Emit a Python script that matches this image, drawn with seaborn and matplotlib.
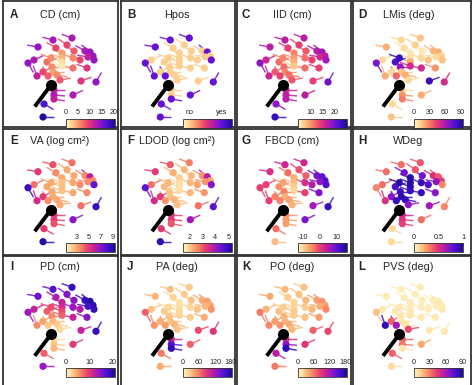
import numpy as np
import pandas as pd
import matplotlib
matplotlib.use("Agg")
import matplotlib.pyplot as plt
import seaborn as sns
from matplotlib.colors import LinearSegmentedColormap, Normalize
from matplotlib.collections import LineCollection
from matplotlib.cm import ScalarMappable

sns.set_theme(style="white")
plt.rcParams["font.family"] = ["Liberation Sans", "DejaVu Sans"]

# ---------------- data ----------------
pt_x = [53, 72, 38, 56, 67, 74, 85, 90, 93, 88, 94, 62, 62, 62, 62, 34, 28, 47, 51, 52,
        73, 80, 87, 73, 43, 53, 57, 37, 48, 96, 81, 73, 54, 54, 54, 44, 43, 60]
pt_y = [40, 38, 47, 48, 45, 51, 51, 52, 56, 57, 60, 53, 58, 62, 66, 60, 63, 62, 58, 67,
        58, 60, 68, 68, 72, 72, 75, 76, 76, 82, 81, 95, 90, 95, 99, 104, 117, 80]
stick_deg = [165, 160, 170, 150, 145, 150, 150, 140, 140, 170, 140, 160, 160, 160, 160, 25, -60, 20, 160, 0,
             160, 150, 160, 170, 30, 0, -10, 110, 120, 60, 20, 25, 0, -5, -10, -30, 0, 10]
anchor_x, anchor_y, anchor_deg = 51, 85, 233

letters = list("ABCDEFGHIJKL")
titles = ["CD (cm)", "Hpos", "IID (cm)", "LMis (deg)",
          "VA (log cm\u00b2)", "LDOD (log cm\u00b2)", "FBCD (cm)", "WDeg",
          "PD (cm)", "PA (deg)", "PO (deg)", "PVS (deg)"]

cd = [13, 13, 14, 9, 9, 8, 13, 14, 14, 12, 14, 5, 4, 2, 1, 13, 14, 7, 6, 6,
      6, 9, 10, 7, 9, 5, 6, 12, 8, 14, 10, 13, 12, 13, 12, 17, 20, 8]
hpos = [1, 1, 1, 0, 0, 0, 0, 1, 0, 0, 1, 0, 0, 0, 0, 0, 1, 0, 0, 0,
        0, 0, 0, 0, 0, 0, 0, 1, 1, 1, 0, 1, 0, 0, 1, 1, 1, 0]
iid = [17, 17, 17, 14, 14, 13, 17, 18, 17, 16, 18, 11, 10, 9, 8, 16, 19, 12, 11, 12,
       12, 14, 14, 12, 13, 11, 12, 16, 14, 20, 14, 17, 16, 17, 17, 19, 23, 13]
lmis = [10, 15, 20, 8, 12, 5, 18, 20, 12, 10, 15, 5, 8, 20, 50, 10, 70, 80, 85, 65,
        10, 15, 25, 50, 10, 15, 20, 20, 35, 50, 85, 20, 10, 25, 30, 10, 15, 10]
va = [4.5, 4, 5, 3.5, 3, 3, 3.5, 6, 3.5, 3.5, 7.5, 3, 2.5, 2.5, 2.5, 4, 8.5, 3, 3, 3,
      3, 3.5, 3.5, 3, 5, 3, 3, 5.5, 3.5, 8.5, 4, 7, 5, 5, 4.5, 5, 9, 3]
ldod = [3, 2.7, 3.3, 2.3, 2.2, 2.2, 2.5, 3.8, 2.4, 2.5, 4.2, 2, 1.8, 1.8, 1.8, 2.8, 4.5, 2.2, 2.2, 2.1,
        2.2, 2.4, 2.5, 2.2, 3.3, 2.1, 2.2, 3.5, 2.5, 4.5, 2.8, 4, 3.3, 3.3, 3, 3.3, 5, 2.1]
fbcd = [3, 3, 2, -3, -1, -2, 8, 10, 11, 7, 11, -7, -8, -9, -10, 0, 0, -5, -6, -4,
        2, 5, 8, 0, -4, -7, -6, 0, -4, 13, 6, 8, -5, -6, -6, -3, -8, -7]
wdeg = [0.35, 0.4, 0.35, 0.75, 0.4, 0.75, 0.5, 0.4, 0.45, 0.7, 0.3, 0.95, 0.95, 0.95, 0.9, 0.35, 0.3, 0.85, 0.95, 0.9,
        0.9, 0.85, 0.7, 0.9, 0.7, 0.95, 0.9, 0.5, 0.9, 0.3, 0.65, 0.35, 0.55, 0.5, 0.45, 0.1, 0.1, 0.7]
pd_cm = [17, 19, 16, 13, 15, 15, 19, 20, 20, 18, 19, 12, 11, 9, 8, 12, 14, 8, 9, 6,
         14, 13, 15, 12, 5, 4, 3, 6, 3, 19, 12, 10, 2, 3, 4, 8, 14, 2]
pa = [30, 25, 35, 20, 25, 30, 40, 45, 40, 35, 50, 15, 15, 20, 20, 30, 70, 25, 20, 30,
      20, 30, 40, 25, 40, 30, 35, 50, 45, 90, 80, 70, 100, 150, 170, 60, 40, 30]
po = [35, 30, 40, 25, 30, 35, 45, 50, 45, 40, 55, 20, 20, 25, 25, 35, 60, 30, 25, 35,
      25, 35, 45, 30, 45, 35, 40, 55, 50, 80, 70, 90, 100, 130, 170, 110, 60, 35]
pvs = [3, 3, 4, 3, 3, 3, 4, 4, 4, 3, 4, 3, 3, 4, 5, 5, 15, 4, 4, 5,
       3, 3, 4, 5, 35, 5, 6, 85, 60, 4, 5, 20, 35, 30, 5, 35, 8, 40]

panel_values = [cd, hpos, iid, lmis, va, ldod, fbcd, wdeg, pd_cm, pa, po, pvs]
panel_ranges = [(0, 20.5), (-0.2, 1.35), (5, 25), (0, 95), (1.2, 9.3), (1.5, 5.3),
                (-13, 16), (0, 1.0), (0, 21), (0, 185), (0, 185), (0, 92)]
panel_ticks = [[0, 5, 10, 15, 20], [0, 1], [10, 15, 20], [0, 30, 60, 90],
               [3, 5, 7, 9], [2, 3, 4, 5], [-10, 0, 10], [0, 0.5, 1],
               [0, 10, 20], [0, 60, 120, 180], [0, 60, 120, 180], [0, 30, 60, 90]]
panel_ticklabels = [["0", "5", "10", "15", "20"], ["no", "yes"], ["10", "15", "20"],
                    ["0", "30", "60", "90"], ["3", "5", "7", "9"], ["2", "3", "4", "5"],
                    ["-10", "0", "10"], ["0", "0.5", "1"], ["0", "10", "20"],
                    ["0", "60", "120", "180"], ["0", "60", "120", "180"], ["0", "30", "60", "90"]]

# ---------------- style / layout ----------------
cmap = LinearSegmentedColormap.from_list(
    "pale_plasma",
    ["#fff6c6", "#fdd596", "#f9a86f", "#f47566", "#e8416f", "#cc2391",
     "#9e17bd", "#6512d6", "#3a0ec4", "#1f0c8c"])

W, H = 474, 385
fig = plt.figure(figsize=(W / 100, H / 100), dpi=100)


def rect(x0, y0, x1, y1):
    return [x0 / W, 1 - y1 / H, (x1 - x0) / W, (y1 - y0) / H]


col_dx = [0, 117.3, 232, 348.3]
row_dy = [0, 124.7, 249.3]
frame_l = [2.5, 121, 237, 353]
frame_r = [118, 235, 351, 471]
frame_t = [1, 128.5, 256]
frame_b = [127, 254.5, 392]
title_y = [15, 141, 267]
stick_len = 11.0

for i in range(12):
    r, c = divmod(i, 4)
    ox, oy = col_dx[c], row_dy[r]
    ax = fig.add_axes(rect(frame_l[c], frame_t[r], frame_r[c], frame_b[r]))
    vals = np.asarray(panel_values[i], dtype=float)
    norm = Normalize(*panel_ranges[i])
    df = pd.DataFrame({"x": pt_x, "y": pt_y, "ang": stick_deg, "v": vals})

    a = np.deg2rad(df["ang"].to_numpy())
    segs = [[(x, y), (x + stick_len * np.cos(t), y - stick_len * np.sin(t))]
            for x, y, t in zip(df["x"], df["y"], a)]
    ax.add_collection(LineCollection(segs, colors=cmap(norm(vals)), linewidths=1.05,
                                     alpha=0.85, zorder=2))
    sns.scatterplot(data=df, x="x", y="y", hue="v", palette=cmap, hue_norm=norm,
                    s=27, linewidth=0, legend=False, ax=ax, zorder=3)

    ta = np.deg2rad(anchor_deg)
    ax.plot([anchor_x, anchor_x + 27 * np.cos(ta)], [anchor_y, anchor_y - 27 * np.sin(ta)],
            color="black", lw=2.8, solid_capstyle="butt", zorder=4)
    ax.scatter([anchor_x], [anchor_y], s=64, color="black", linewidth=0, zorder=5)

    ax.set_xlim(frame_l[c] - ox, frame_r[c] - ox)
    ax.set_ylim(frame_b[r] - oy, frame_t[r] - oy)
    ax.set_xticks([]); ax.set_yticks([])
    ax.set_xlabel(""); ax.set_ylabel("")
    for s in ax.spines.values():
        s.set_visible(True)
        s.set_color("#333333")
        s.set_linewidth(1.3)

    fig.text((ox + 10) / W, 1 - title_y[r] / H, letters[i], fontsize=8.4, fontweight="bold",
             ha="left", va="center")
    fig.text((ox + 60) / W, 1 - title_y[r] / H, titles[i], fontsize=7.8, ha="center", va="center")

    cax = fig.add_axes(rect(ox + 65.7, oy + 118.5, ox + 115, oy + 127.5))
    cb = fig.colorbar(ScalarMappable(norm=norm, cmap=cmap), cax=cax, orientation="horizontal",
                      ticks=panel_ticks[i])
    cb.set_ticklabels(panel_ticklabels[i])
    cax.xaxis.set_ticks_position("top")
    cax.tick_params(axis="x", direction="in", length=2, width=0.5, labelsize=5.2, pad=1.5,
                    colors="#222222")
    cb.outline.set_linewidth(0.6)
    cb.outline.set_edgecolor("#333333")

fig.savefig("out.png", dpi=100)
